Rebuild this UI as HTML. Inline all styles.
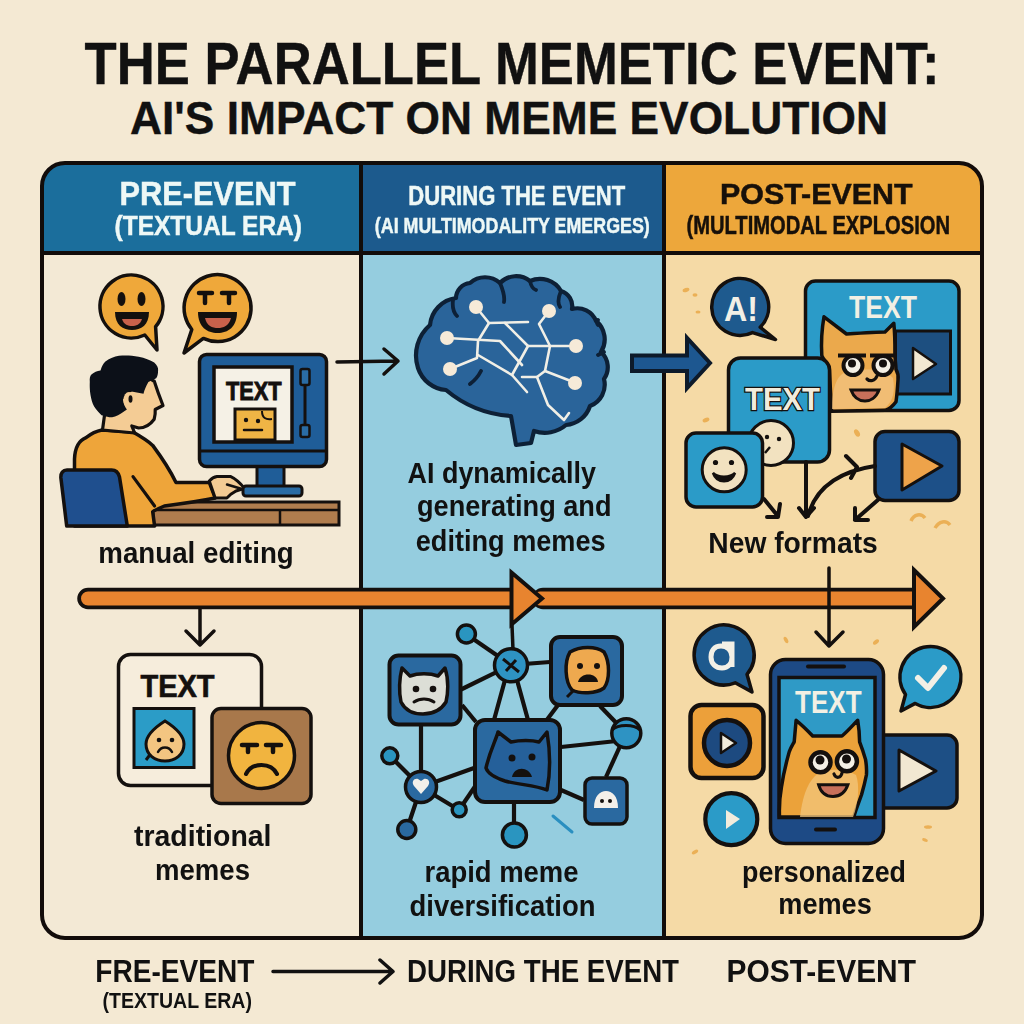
<!DOCTYPE html>
<html><head><meta charset="utf-8">
<style>
html,body{margin:0;padding:0;background:#f4e9d3;width:1024px;height:1024px;overflow:hidden}
svg{display:block}
text{font-family:"Liberation Sans",sans-serif;font-weight:bold}
</style></head>
<body>
<svg width="1024" height="1024" viewBox="0 0 1024 1024">
<rect width="1024" height="1024" fill="#f4e9d3"/>
<!-- TITLE -->
<text x="84.5" y="83.5" font-size="58.5" textLength="855" lengthAdjust="spacingAndGlyphs" fill="#111" stroke="#111" stroke-width="0.4">THE PARALLEL MEMETIC EVENT:</text>
<text x="130" y="133.5" font-size="47" textLength="758" lengthAdjust="spacingAndGlyphs" fill="#111" stroke="#111" stroke-width="0.4">AI'S IMPACT ON MEME EVOLUTION</text>

<!-- FRAME -->
<clipPath id="fc"><rect x="42" y="163" width="940" height="775" rx="23"/></clipPath>
<g clip-path="url(#fc)">
  <rect x="40" y="160" width="322" height="95" fill="#1b6e9c"/>
  <rect x="362" y="160" width="302" height="95" fill="#1c5a8d"/>
  <rect x="664" y="160" width="322" height="95" fill="#eda73b"/>
  <rect x="40" y="253" width="322" height="690" fill="#f3e9d5"/>
  <rect x="362" y="253" width="302" height="690" fill="#95cddf"/>
  <rect x="664" y="253" width="322" height="690" fill="#f5daa6"/>
</g>
<line x1="42" y1="253" x2="982" y2="253" stroke="#120c0a" stroke-width="4"/>
<line x1="361" y1="163" x2="361" y2="938" stroke="#120c0a" stroke-width="4"/>
<line x1="664" y1="163" x2="664" y2="938" stroke="#120c0a" stroke-width="4"/>
<rect x="42" y="163" width="940" height="775" rx="23" fill="none" stroke="#120c0a" stroke-width="4"/>
<g id="art">
<path d="M144.8,335.0 A31.5,31.5 0 1 1 155.6,326.7 L157.0,350.0 Z" fill="#efa83a" stroke="#14100e" stroke-width="3.5" stroke-linejoin="round"/>
<ellipse cx="121.5" cy="299" rx="4" ry="7" fill="#14100e"/><ellipse cx="141.5" cy="299" rx="4" ry="7" fill="#14100e"/>
<path d="M115,312 H149 C149,325 141,330 132,330 C123,330 115,325 115,312 Z" fill="#14100e"/>
<path d="M122,319 H142 C140,325 136,326 132,326 C128,326 124,325 122,319 Z" fill="#c9614b"/>
<path d="M191.8,329.5 A33.5,33.5 0 1 1 203.3,338.4 L184.0,353.0 Z" fill="#efa83a" stroke="#14100e" stroke-width="3.5" stroke-linejoin="round"/>
<path d="M199,293 H212 M222,293 H235 M205,293 V303 M229,293 V303" stroke="#14100e" stroke-width="4.5" stroke-linecap="round"/>
<path d="M198,312 H237 C237,327 228,333 217.5,333 C207,333 198,327 198,312 Z" fill="#14100e"/>
<path d="M205,318 H231 C229,326 223,328 218,328 C212,328 207,326 205,318 Z" fill="#c9614b"/>
<path d="M153,502 H339 V525 H153 Z" fill="#b07d4e" stroke="#14100e" stroke-width="3"/>
<path d="M153,510 H339 M280,510 V525" stroke="#14100e" stroke-width="2.5"/>
<path d="M74.5,526 L74.5,459 C75,447 80,440 86,437.6 C92,433 97,431 102,430 L133,432 C140,436 147,440 152.7,445.4 C162,458 170,470 176,482.5 L209.3,482.5 L215.2,498 C195,502 180,504 164.4,506 C160,508 155,510 152.7,511.8 L154.6,526 Z" fill="#eea53a" stroke="#14100e" stroke-width="3.5" stroke-linejoin="round"/>
<path d="M133,476.6 L154.6,506" stroke="#14100e" stroke-width="3.2" stroke-linecap="round"/>
<path d="M66.7,526 L60.9,478 C60.5,473 63,470 67,470 L111.6,470 C116,470 118.5,473 119.5,477 L127.3,526 Z" fill="#1f4f8e" stroke="#14100e" stroke-width="3.5" stroke-linejoin="round"/>
<path d="M209.3,481 C212,478 214,477 217,476.6 L230.8,476.6 C236,479 241,484 244.5,488.4 L236,491 L230.8,494.2 L226.9,498 L215.2,498 Z" fill="#f3cb94" stroke="#14100e" stroke-width="3" stroke-linejoin="round"/>
<path d="M227,484.5 L242,489" stroke="#14100e" stroke-width="2.5" stroke-linecap="round"/>
<path d="M102.5,430 L104.4,416 L128,392 L150,378 C152,380 153.5,381 154.2,381.1 C157,390 160,398 163,405.5 L155.2,409.5 C155.5,413 155,416 154.2,419.2 C150,425 144,428 138.6,428 L131.8,426 L134.7,433 Z" fill="#f4cc95" stroke="#14100e" stroke-width="3.2" stroke-linejoin="round"/>
<path d="M89.8,382 C89.5,378 90,376 91.7,374.3 C94,372 97,371 100.5,370.4 C102,366 103,364 105.4,361.6 C110,358 114,356.5 119,355.7 C126,355 132,355.5 138.6,356.7 C145,358 150,360 154.2,362.6 C157,365 158.5,368 158.1,370.4 C158,374 157.5,376 156.2,378.2 L148.4,382.1 C146,386 144.5,390 143.5,393.8 L128.8,390.9 C125,393 123.5,396 123,399.7 C123.5,404 125,407 126.9,409.5 L121,413.4 C117,416 113,417.3 109.3,417.3 L101.5,415.3 C97,411 94,407 92.7,403.6 C90,396 89.5,388 89.8,382 Z" fill="#0c1018"/>
<ellipse cx="129" cy="400" rx="5.5" ry="8" fill="#f4cc95"/><ellipse cx="130.5" cy="399" rx="2" ry="3.8" fill="#14100e"/>
<rect x="257" y="465" width="27" height="22" fill="#1f5d98" stroke="#14100e" stroke-width="3"/>
<rect x="243" y="486" width="59" height="10" rx="3" fill="#2a6ca4" stroke="#14100e" stroke-width="3"/>
<rect x="199.5" y="354.5" width="127" height="112" rx="7" fill="#1f5d98" stroke="#14100e" stroke-width="3.5"/>
<line x1="200" y1="451" x2="326" y2="451" stroke="#14100e" stroke-width="3"/>
<rect x="214" y="367" width="78" height="75" fill="#f5f1e6" stroke="#14100e" stroke-width="3.5"/>
<text x="226" y="400" font-size="26" textLength="55.5" lengthAdjust="spacingAndGlyphs" fill="#14100e" stroke="#14100e" stroke-width="1">TEXT</text>
<rect x="235" y="409" width="40" height="31" fill="#efb445" stroke="#14100e" stroke-width="3"/>
<circle cx="246" cy="420" r="2.2" fill="#14100e"/><circle cx="258" cy="421" r="2.2" fill="#14100e"/><path d="M244,430 H262" stroke="#14100e" stroke-width="2.5" stroke-linecap="round"/><path d="M262,411 C262,418 266,420 272,419" fill="none" stroke="#14100e" stroke-width="2"/>
<line x1="305" y1="372" x2="305" y2="436" stroke="#14100e" stroke-width="3"/>
<rect x="300.5" y="369" width="9" height="16" rx="2" fill="#2a6ca4" stroke="#14100e" stroke-width="2.5"/>
<rect x="300.5" y="425" width="9" height="12" rx="2" fill="#2a6ca4" stroke="#14100e" stroke-width="2.5"/>
<path d="M337,362 L397,361 M384,349 L398,361 L384,374" fill="none" stroke="#14100e" stroke-width="3.5" stroke-linecap="round" stroke-linejoin="round"/>
<path d="M200,609 V645 M186,631 L200,645 L214,631" fill="none" stroke="#14100e" stroke-width="3.5" stroke-linecap="round" stroke-linejoin="round"/>
<rect x="118.5" y="654.5" width="143" height="131" rx="12" fill="#f6eddc" stroke="#14100e" stroke-width="3.5"/>
<text x="140.4" y="696.6" font-size="32" textLength="74.2" lengthAdjust="spacingAndGlyphs" fill="#14100e" stroke="#14100e" stroke-width="0.7">TEXT</text>
<rect x="134" y="708.5" width="60" height="59" fill="#2b9cc7" stroke="#14100e" stroke-width="3"/>
<path d="M146,760 L155,748" stroke="#14100e" stroke-width="3"/>
<path d="M165,721 C176,728 184,736 184,744 C184,755 175,761 165,761 C155,761 146,755 146,744 C146,736 154,728 165,721 Z" fill="#f3c581" stroke="#14100e" stroke-width="3"/>
<circle cx="159" cy="740" r="2.3" fill="#14100e"/><circle cx="172" cy="740" r="2.3" fill="#14100e"/><path d="M158,752 C161,746 169,746 172,752" fill="none" stroke="#14100e" stroke-width="2.5" stroke-linecap="round"/>
<rect x="212" y="708.5" width="99" height="95" rx="9" fill="#a8784b" stroke="#14100e" stroke-width="3.5"/>
<circle cx="261.5" cy="755.5" r="33" fill="#f1b43f" stroke="#14100e" stroke-width="3.5"/>
<path d="M242,745 H257 M266,745 H281 M248,745 V752 M273,745 V752" stroke="#14100e" stroke-width="4.5" stroke-linecap="round"/>
<path d="M246,774 C252,762 271,762 277,774" fill="none" stroke="#14100e" stroke-width="4" stroke-linecap="round"/>
<path d="M88,598.5 H511 M543,598.5 H913" stroke="#14100e" stroke-width="21.5" stroke-linecap="round"/>
<path d="M88,598.5 H515 M540,598.5 H916" stroke="#e8842f" stroke-width="14" stroke-linecap="round"/>
<path d="M511.5,572.5 L542,598.5 L511.5,624.5 Z" fill="#e8842f" stroke="#14100e" stroke-width="4" stroke-linejoin="miter"/>
<path d="M914,570 L943,598.5 L914,627 Z" fill="#e8842f" stroke="#14100e" stroke-width="4" stroke-linejoin="miter"/>
<path d="M512,625 L513,650" stroke="#14100e" stroke-width="3.5"/>

<path d="M418,368 A40.2,40.2 0 0 1 430,325 A30.0,30.0 0 0 1 456,298 A15.4,15.4 0 0 1 470,283 A22.5,22.5 0 0 1 500,283 A22.5,22.5 0 0 1 530,281 A24.4,24.4 0 0 1 561,291 A15.8,15.8 0 0 1 572,309 A20.1,20.1 0 0 1 596,321 A23.6,23.6 0 0 1 601,352 A20.4,20.4 0 0 1 604,379 A22.8,22.8 0 0 1 590,406 A27.5,27.5 0 0 1 566,425 A32.6,32.6 0 0 1 534,431 L531,443 L516,445 L511,416 A112.0,112.0 0 0 1 446,390 A32.0,32.0 0 0 1 418,368 Z" fill="#2a649a" stroke="#0d2036" stroke-width="4.2" stroke-linejoin="round"/>
<path d="M453,300 C452,308 454,313 457,316 M500,283 C503,290 505,296 504,302 M530,281 C531,286 533,289 536,290 M561,291 C558,298 558,304 560,307 M598,320 C597,322 597,324 598,325 M604,352 L598,355 M481,371 C478,377 474,381 470,384" fill="none" stroke="#0d2036" stroke-width="3.8" stroke-linecap="round"/>
<g fill="none" stroke="#f1efe6" stroke-width="2.6" stroke-linecap="round" stroke-linejoin="round">
<path d="M476,307 L489,323 L528,322"/>
<path d="M549,311 L539,324 L550,346 L545,371 L537,377 L522,377"/>
<path d="M447,338 L500,341 L522,365"/>
<path d="M489,323 L478,341 L477,358 L450,369"/>
<path d="M505,323 L528,346 L550,346 L576,346"/>
<path d="M528,346 L512,375 L527,392"/>
<path d="M478,355 L512,375"/>
<path d="M545,371 L576,383"/>
<path d="M537,377 L548,405 L564,420 L569,413"/>
</g>
<g fill="#f6ead8">
<circle cx="476" cy="307" r="7"/><circle cx="549" cy="311" r="7"/><circle cx="447" cy="338" r="7"/>
<circle cx="576" cy="346" r="7"/><circle cx="450" cy="369" r="7"/><circle cx="575" cy="383" r="7"/>
</g>

<g stroke="#14100e" stroke-width="4.2" fill="none">
<path d="M466,634 L511,665"/><path d="M460,690 L511,665"/><path d="M511,665 L550,662"/>
<path d="M505,680 L494,720 M517,680 L528,720"/>
<path d="M421,725 L421,787"/><path d="M390,756 L421,787"/><path d="M421,787 L474,768"/>
<path d="M421,787 L459,810 M421,787 L407,829"/><path d="M459,810 L476,785"/>
<path d="M514,803 L514,835"/><path d="M561,747 L626,740"/><path d="M546,721 L558,705"/><path d="M626,733 L606,777"/>
<path d="M561,790 L584,800"/><path d="M600,706 L626,733"/><path d="M462,705 L476,722"/>
</g>
<circle cx="466.4" cy="634" r="9" fill="#2a95c0" stroke="#14100e" stroke-width="3.5"/>
<circle cx="511" cy="665.3" r="16.5" fill="#2e93c3" stroke="#14100e" stroke-width="3.5"/>
<path d="M503,659 L519,672 M506,671 L516,660" stroke="#14100e" stroke-width="3"/>
<rect x="389.5" y="655.5" width="71" height="69" rx="9" fill="#2a69a0" stroke="#14100e" stroke-width="4"/>
<path d="M402,668 L410,676 C418,673 430,673 438,676 L445,668 C449,680 448,694 446,702 C441,710 433,714 423,714 C413,714 405,710 401,702 C399,692 399,680 402,668 Z" fill="#dcded6" stroke="#14100e" stroke-width="3.5" stroke-linejoin="round"/>
<circle cx="416" cy="689" r="3.3" fill="#14100e"/><circle cx="433" cy="689" r="3.3" fill="#14100e"/>
<path d="M414,702 C420,698 428,698 434,702" fill="none" stroke="#14100e" stroke-width="3" stroke-linecap="round"/>
<rect x="551" y="637" width="71" height="68" rx="9" fill="#2a69a0" stroke="#14100e" stroke-width="4"/>
<path d="M570,652 C580,646 596,646 604,652 C610,662 610,680 604,688 C596,694 580,694 572,690 C565,682 564,662 570,652 Z" fill="#eea94f" stroke="#14100e" stroke-width="3.5"/>
<path d="M567,697 L574,690" stroke="#14100e" stroke-width="3"/>
<circle cx="580" cy="666" r="3" fill="#14100e"/><circle cx="597" cy="666" r="3" fill="#14100e"/>
<path d="M578,682 C580,672 597,672 598,682 Z" fill="#14100e"/>
<rect x="475" y="720" width="85" height="82" rx="10" fill="#2a69a0" stroke="#14100e" stroke-width="4"/>
<path d="M486,768 C490,750 496,740 498,732 L511,742 C520,740 532,740 539,742 L547,732 C550,750 551,770 547,790 C535,785 520,785 505,781 C496,778 488,774 486,768 Z" fill="#25609a" stroke="#14100e" stroke-width="3.5" stroke-linejoin="round"/>
<circle cx="512" cy="758" r="3.5" fill="#14100e"/><circle cx="532" cy="757" r="3.5" fill="#14100e"/>
<path d="M512,777 C514,766 529,766 532,777 Z" fill="#14100e"/>
<circle cx="626.3" cy="733.2" r="14.5" fill="#2e93c3" stroke="#14100e" stroke-width="3.5"/>
<path d="M612,730 C618,724 634,724 640,730" fill="none" stroke="#14100e" stroke-width="3"/>
<rect x="585" y="778" width="42" height="46" rx="7" fill="#2a69a0" stroke="#14100e" stroke-width="3.5"/>
<path d="M594,808 C594,796 600,791 606,791 C612,791 618,796 618,808 Z" fill="#f3f0ea"/>
<circle cx="602" cy="801" r="2" fill="#14100e"/><circle cx="610" cy="801" r="2" fill="#14100e"/>
<circle cx="421" cy="787" r="15.5" fill="#2a69a0" stroke="#14100e" stroke-width="3.5"/>
<path d="M421,794 L414,786 C411,782 414,778 418,779 L421,781 L424,779 C428,778 431,782 428,786 Z" fill="#f3f0ea"/>
<circle cx="389.8" cy="755.8" r="8" fill="#2a95c0" stroke="#14100e" stroke-width="3.5"/>
<circle cx="406.8" cy="829.5" r="9" fill="#2a69a0" stroke="#14100e" stroke-width="3.5"/>
<circle cx="459.2" cy="809.7" r="7" fill="#2a95c0" stroke="#14100e" stroke-width="3.5"/>
<circle cx="514.4" cy="835" r="12" fill="#2a95c0" stroke="#14100e" stroke-width="3.5"/>
<path d="M553,816 L572,832" stroke="#2a8fc0" stroke-width="3" stroke-linecap="round"/>

<path d="M632,355.5 H687 V338 L710,363 L687,388 V371 H632 Z" fill="#1d5790" stroke="#0d1a2a" stroke-width="4" stroke-linejoin="miter"/>
<path d="M752.5,332.6 A28.5,28.5 0 1 1 760.2,327.2 L775.5,339.5 Z" fill="#1e5a8e" stroke="#14100e" stroke-width="3.5" stroke-linejoin="round"/>
<text x="724" y="320.5" font-size="35" textLength="34" lengthAdjust="spacingAndGlyphs" fill="#f3f0e6">A!</text>
<rect x="805.5" y="281" width="153.5" height="129.5" rx="10" fill="#2b9bc8" stroke="#14100e" stroke-width="3.5"/>
<text x="849" y="318" font-size="32" textLength="68" lengthAdjust="spacingAndGlyphs" fill="#f2f0e4">TEXT</text>
<rect x="895.5" y="331" width="55" height="63" fill="#1d4f80" stroke="#14100e" stroke-width="3"/>
<path d="M913,348 L936,364 L913,379 Z" fill="#f2e8d2" stroke="#14100e" stroke-width="2.5" stroke-linejoin="round"/>
<path d="M831.5,411.3 L829.3,367.3 C826,362 823,359 821.8,355.5 C821,342 822,328 824,316.8 L846.5,334 C862,333 878,332 885,332 L893.8,323.3 C895,335 895,345 894.9,353.3 C895,360 896,366 896,369.4 C898,373 898.5,377 898,380 C897.5,388 897,395 896,401.7 C893,406 889,409 885.2,410.3 Z" fill="#eba94c" stroke="#14100e" stroke-width="3.5" stroke-linejoin="round"/>
<path d="M832,409 C832,390 836,375 846,372 C862,368 884,368 893,378 C895,390 894,400 885,408 Z" fill="#f2c27e" opacity="0.8"/>
<path d="M838,355.5 H866 M870,355.5 H894" stroke="#14100e" stroke-width="4"/>
<circle cx="853" cy="365.5" r="9.5" fill="#f4f0e6" stroke="#14100e" stroke-width="4"/><circle cx="852" cy="363.5" r="4" fill="#14100e"/>
<circle cx="883" cy="365.5" r="9.5" fill="#f4f0e6" stroke="#14100e" stroke-width="4"/><circle cx="883" cy="363.5" r="4" fill="#14100e"/>
<path d="M867,379 C870,382 875,381 877,376" fill="none" stroke="#14100e" stroke-width="3.2" stroke-linecap="round"/>
<path d="M851,390 H879 C876,398 870,401 865,401 C859,401 854,398 851,390 Z" fill="#c7705a" stroke="#14100e" stroke-width="3"/>
<rect x="728.5" y="358" width="101" height="104" rx="12" fill="#2b9bc8" stroke="#14100e" stroke-width="3.5"/>
<text x="745" y="409.5" font-size="31" textLength="75" lengthAdjust="spacingAndGlyphs" fill="#f2ecdc" stroke="#14100e" stroke-width="2.5" paint-order="stroke">TEXT</text>
<circle cx="771" cy="443" r="22.5" fill="#f2e2c0" stroke="#14100e" stroke-width="3"/>
<circle cx="767" cy="437" r="2.2" fill="#14100e"/><circle cx="779" cy="439" r="2.2" fill="#14100e"/>
<path d="M770,447 L765,453" stroke="#14100e" stroke-width="2.5"/>
<rect x="686" y="433" width="76.5" height="74" rx="10" fill="#2b9bc8" stroke="#14100e" stroke-width="3.5"/>
<circle cx="724.2" cy="469.8" r="22" fill="#f2e2c0" stroke="#14100e" stroke-width="3"/>
<circle cx="715.5" cy="462.5" r="2.6" fill="#14100e"/><circle cx="731.5" cy="462.5" r="2.6" fill="#14100e"/>
<path d="M713,473 C717,484 731,484 735,473 C730,478 718,478 713,473 Z" fill="#14100e" stroke="#14100e" stroke-width="2.5"/>
<rect x="875" y="431.5" width="84" height="69" rx="10" fill="#1d5088" stroke="#14100e" stroke-width="3.5"/>
<path d="M902,444 L942,466 L902,490 Z" fill="#eea34a" stroke="#14100e" stroke-width="3" stroke-linejoin="round"/>
<g fill="none" stroke="#14100e" stroke-width="4" stroke-linecap="round" stroke-linejoin="round">
<path d="M764,499 L777,515 M767,517 L778,517 L780,504"/>
<path d="M806,462 V517 M799,508 L806,517 L814,508"/>
<path d="M808,516 C815,490 835,472 875,466 M846,456 L857,467 L851,478"/>
<path d="M879,499 L855,520 M855,508 L855,520 L868,520"/>
</g>
<g fill="#e9a848" opacity="0.85">
<ellipse cx="686" cy="290" rx="3.5" ry="2" transform="rotate(-20 686 290)"/>
<ellipse cx="695" cy="295" rx="2.5" ry="1.8"/>
<ellipse cx="698" cy="312" rx="2.5" ry="1.6"/>
<ellipse cx="706" cy="420" rx="3.5" ry="2.2" transform="rotate(-20 706 420)"/>
<ellipse cx="857" cy="433" rx="2.5" ry="4" transform="rotate(-30 857 433)"/>
<path d="M911,521 C914,514 921,513 925,518" fill="none" stroke="#e9a848" stroke-width="3.5"/>
<path d="M935,528 C939,521 946,520 950,525" fill="none" stroke="#e9a848" stroke-width="3.5"/>
</g>
<path d="M829,568 V646 M816,632 L829,646 L843,632" fill="none" stroke="#14100e" stroke-width="3.5" stroke-linecap="round" stroke-linejoin="round"/>

<path d="M735.2,682.8 A30,30 0 1 1 747.0,674.3 L752.0,692.0 Z" fill="#1e5a8e" stroke="#14100e" stroke-width="3.5" stroke-linejoin="round"/>
<path d="M722,644 H732 V667 M732,657 C732,650 727,646 721,646 C714,646 711,651 711,657 C711,664 716,668 722,668 C728,668 732,664 732,657" fill="none" stroke="#f3f0e6" stroke-width="5"/>
<path d="M905.5,694.5 A30.5,30.5 0 1 1 915.2,703.4 L901.0,711.0 Z" fill="#2b9bc8" stroke="#14100e" stroke-width="3.5" stroke-linejoin="round"/>
<path d="M918,678 L928,688 L944,668" fill="none" stroke="#f3f0e6" stroke-width="6" stroke-linecap="round" stroke-linejoin="round"/>
<rect x="690.5" y="705" width="73" height="73" rx="11" fill="#eca03a" stroke="#14100e" stroke-width="4.5"/>
<circle cx="727" cy="743" r="23" fill="#1d4a80" stroke="#14100e" stroke-width="4.5"/>
<path d="M721,733 L736,743 L721,753 Z" fill="#f2ecdc" stroke="#14100e" stroke-width="2.5" stroke-linejoin="round"/>
<circle cx="731.3" cy="819.2" r="26" fill="#2b9bc8" stroke="#14100e" stroke-width="4.2"/>
<path d="M726,810 L740,819 L726,829 Z" fill="#f2ecdc"/>
<rect x="870" y="735" width="87" height="73" rx="10" fill="#1d4f85" stroke="#14100e" stroke-width="3.5"/>
<path d="M899,750 L936,771 L899,791 Z" fill="#f2e8d2" stroke="#14100e" stroke-width="3" stroke-linejoin="round"/>
<rect x="770.5" y="659.5" width="113" height="184" rx="15" fill="#1d4a85" stroke="#14100e" stroke-width="3.5"/>
<rect x="779" y="677.5" width="96" height="140" fill="#2f9ac6" stroke="#14100e" stroke-width="3.5"/>
<path d="M808,666.5 H844" stroke="#14100e" stroke-width="4" stroke-linecap="round"/>
<path d="M816,829.5 H835" stroke="#14100e" stroke-width="4" stroke-linecap="round"/>
<text x="795" y="712.5" font-size="32" textLength="66.6" lengthAdjust="spacingAndGlyphs" fill="#f2f0e4">TEXT</text>
<path d="M779.5,817 C779,805 780,795 781.5,786.7 C784,770 787,760 789.3,751.6 C791,747 793,744 794.2,741.8 L796.1,720.3 C802,725 808,731 812.7,736 L842,736 C848,731 853,725 857.7,720.3 C859,728 859.5,735 859.6,741.8 C862,748 864,754 865.5,759.4 C866.5,765 866.8,770 866.4,775 C865,782 863.5,788 861.6,794.5 C859,802 856,809 853.75,817 Z" fill="#eba23a" stroke="#14100e" stroke-width="3.5" stroke-linejoin="round"/>
<path d="M800,817 C802,800 806,785 815,776 C825,768 845,768 856,775 C860,785 858,805 853,817 Z" fill="#f3c57c" opacity="0.75"/>
<circle cx="820.5" cy="762.3" r="10" fill="#f4f0e6" stroke="#14100e" stroke-width="4.5"/><circle cx="820" cy="760" r="4.5" fill="#14100e"/>
<circle cx="846.9" cy="761.3" r="10" fill="#f4f0e6" stroke="#14100e" stroke-width="4.5"/><circle cx="846.5" cy="759" r="4.5" fill="#14100e"/>
<path d="M834,774 C836,779 841,778 842,773" fill="none" stroke="#14100e" stroke-width="3.2" stroke-linecap="round"/>
<path d="M818.6,784.8 H847.9 C845,793 839,796.5 833,796.5 C826,796.5 821,793 818.6,784.8 Z" fill="#c7705a" stroke="#14100e" stroke-width="3"/>
<g fill="#e9a848" opacity="0.85">
<ellipse cx="786" cy="640" rx="1.8" ry="3.5" transform="rotate(-30 786 640)"/>
<ellipse cx="876" cy="642" rx="3.5" ry="2" transform="rotate(-40 876 642)"/>
<ellipse cx="928" cy="827" rx="4" ry="1.8"/>
<ellipse cx="925" cy="840" rx="3" ry="1.6" transform="rotate(20 925 840)"/>
<ellipse cx="695" cy="852" rx="3.5" ry="1.8" transform="rotate(-30 695 852)"/>
</g>

</g><!--/art-->

<!-- HEADERS -->
<text x="119.5" y="204.5" font-size="33" textLength="176" lengthAdjust="spacingAndGlyphs" fill="#eef8f6" stroke="#eef8f6" stroke-width="0.5">PRE-EVENT</text>
<text x="114.5" y="234.5" font-size="27.5" textLength="187.5" lengthAdjust="spacingAndGlyphs" fill="#eef8f6" stroke="#eef8f6" stroke-width="0.5">(TEXTUAL ERA)</text>
<text x="408.3" y="204.5" font-size="27" textLength="217" lengthAdjust="spacingAndGlyphs" fill="#eef8f6" stroke="#eef8f6" stroke-width="0.5">DURING THE EVENT</text>
<text x="374.8" y="233" font-size="22.5" textLength="275" lengthAdjust="spacingAndGlyphs" fill="#eef8f6" stroke="#eef8f6" stroke-width="0.5">(AI MULTIMODALITY EMERGES)</text>
<text x="720" y="203.5" font-size="30" textLength="192.5" lengthAdjust="spacingAndGlyphs" fill="#17100a" stroke="#17100a" stroke-width="0.5">POST-EVENT</text>
<text x="686.5" y="234" font-size="25.5" textLength="263.5" lengthAdjust="spacingAndGlyphs" fill="#17100a" stroke="#17100a" stroke-width="0.5">(MULTIMODAL EXPLOSION</text>

<!-- BODY TEXTS -->
<text x="98.3" y="562.7" font-size="29" textLength="195.5" lengthAdjust="spacingAndGlyphs" fill="#111">manual editing</text>
<text x="407.6" y="482.8" font-size="29" textLength="188.4" lengthAdjust="spacingAndGlyphs" fill="#111">AI dynamically</text>
<text x="417" y="516.3" font-size="29" textLength="194.5" lengthAdjust="spacingAndGlyphs" fill="#111">generating and</text>
<text x="415.8" y="550.8" font-size="29" textLength="189.8" lengthAdjust="spacingAndGlyphs" fill="#111">editing memes</text>
<text x="708.3" y="553" font-size="29.5" textLength="169.5" lengthAdjust="spacingAndGlyphs" fill="#111">New formats</text>
<text x="134" y="846.2" font-size="29" textLength="137.5" lengthAdjust="spacingAndGlyphs" fill="#111">traditional</text>
<text x="155" y="879.7" font-size="29" textLength="95" lengthAdjust="spacingAndGlyphs" fill="#111">memes</text>
<text x="424.5" y="881.8" font-size="29" textLength="154" lengthAdjust="spacingAndGlyphs" fill="#111">rapid meme</text>
<text x="409.5" y="915.6" font-size="29" textLength="186" lengthAdjust="spacingAndGlyphs" fill="#111">diversification</text>
<text x="742" y="881.7" font-size="29" textLength="164" lengthAdjust="spacingAndGlyphs" fill="#111">personalized</text>
<text x="778.3" y="914.3" font-size="29" textLength="93.5" lengthAdjust="spacingAndGlyphs" fill="#111">memes</text>

<!-- FOOTER -->
<text x="95.3" y="982" font-size="32" textLength="159" lengthAdjust="spacingAndGlyphs" fill="#111">FRE-EVENT</text>
<text x="102.5" y="1007.5" font-size="21.5" textLength="149.4" lengthAdjust="spacingAndGlyphs" fill="#111">(TEXTUAL ERA)</text>
<text x="407" y="981.5" font-size="30.5" textLength="272" lengthAdjust="spacingAndGlyphs" fill="#111">DURING THE EVENT</text>
<text x="726.5" y="982" font-size="32" textLength="189.5" lengthAdjust="spacingAndGlyphs" fill="#111">POST-EVENT</text>
<path d="M273 971.5 H392 M380 960 L393 971.5 L380 983" fill="none" stroke="#111" stroke-width="3.5" stroke-linecap="round" stroke-linejoin="round"/>
</svg>
</body></html>
